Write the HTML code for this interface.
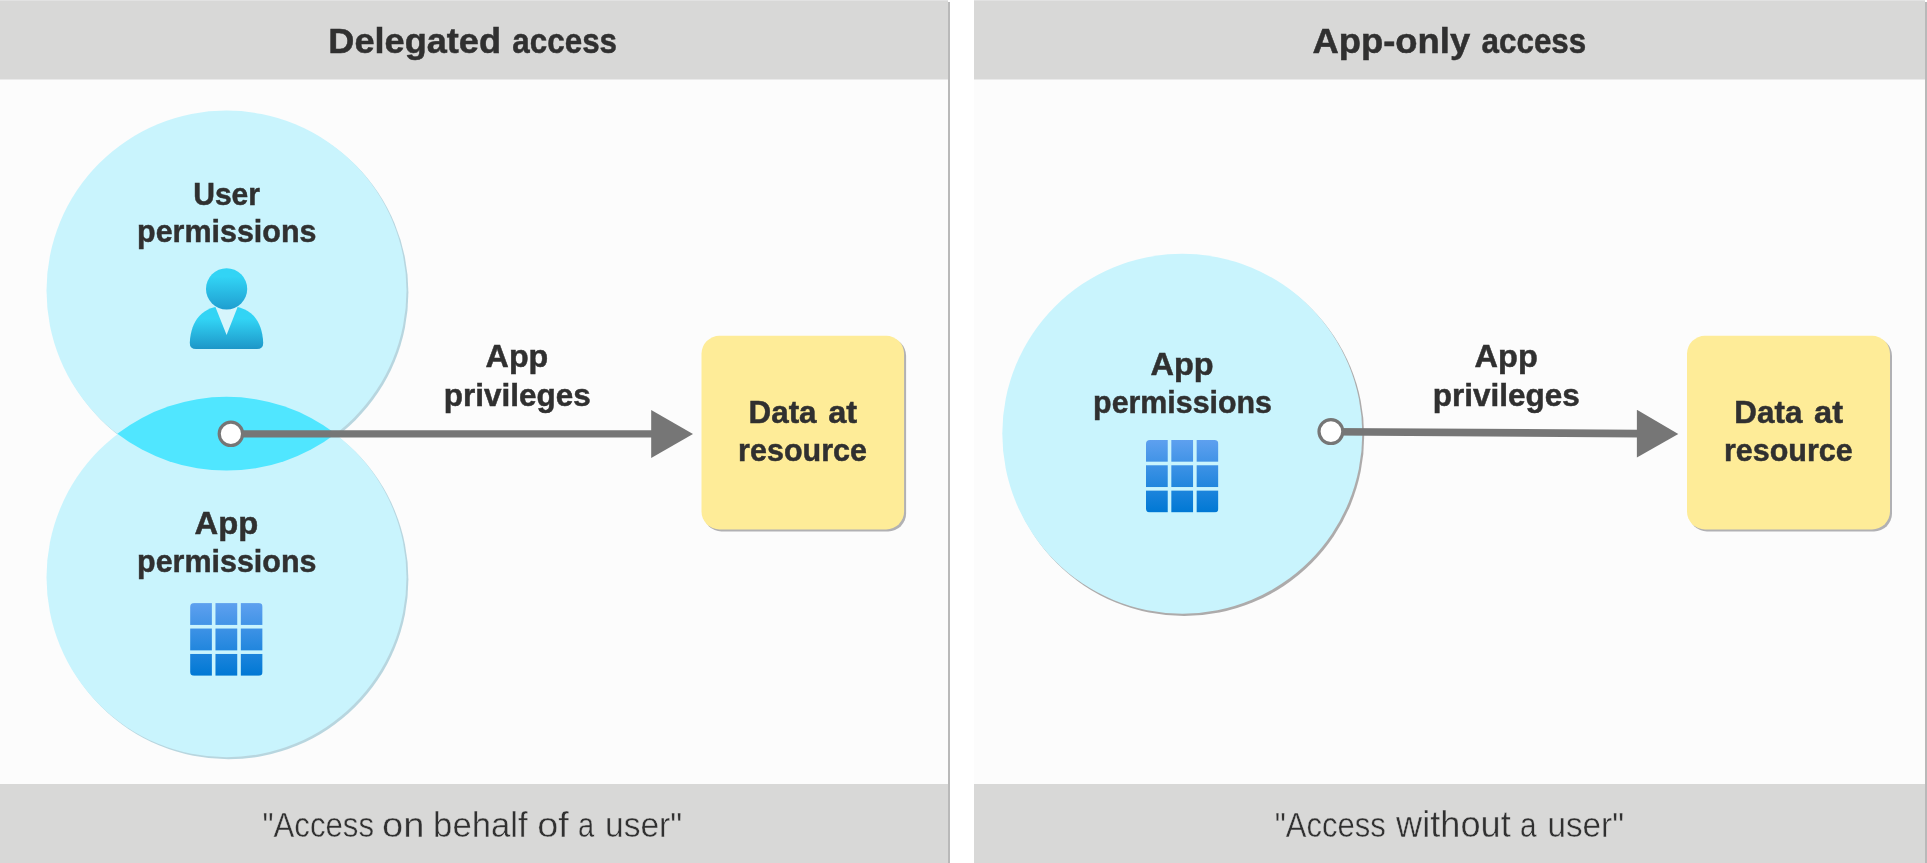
<!DOCTYPE html>
<html><head><meta charset="utf-8">
<style>
html,body{margin:0;padding:0;background:#ffffff;width:1927px;height:863px;overflow:hidden}
svg{display:block;will-change:transform}
text{font-family:"Liberation Sans",sans-serif;fill:#303030}
.b{font-weight:bold;stroke:#303030;stroke-width:0.5px}
</style></head><body>
<svg width="1927" height="863" viewBox="0 0 1927 863">
<defs>
 <linearGradient id="gUser" x1="0" y1="0" x2="0" y2="1">
  <stop offset="0.3" stop-color="#32d4f5"/><stop offset="1" stop-color="#1d96c8"/>
 </linearGradient>
 <linearGradient id="gHead" x1="0" y1="0" x2="0" y2="1">
  <stop offset="0.2" stop-color="#32d4f5"/><stop offset="1" stop-color="#1f9ed0"/>
 </linearGradient>
 <linearGradient id="gApp" gradientUnits="userSpaceOnUse" x1="0" y1="603.1" x2="0" y2="675.8">
  <stop offset="0" stop-color="#5ea0ef"/><stop offset="1" stop-color="#0078d4"/>
 </linearGradient>
 <linearGradient id="gApp2" gradientUnits="userSpaceOnUse" x1="0" y1="439.9" x2="0" y2="512.4">
  <stop offset="0" stop-color="#5ea0ef"/><stop offset="1" stop-color="#0078d4"/>
 </linearGradient>
 <clipPath id="cg1"><rect x="190.1" y="603.1" width="72.5" height="72.7" rx="4"/></clipPath>
 <clipPath id="cg2"><rect x="1146" y="439.9" width="72.4" height="72.5" rx="4"/></clipPath>
</defs>
<rect x="0" y="0" width="948" height="863" fill="#fcfcfc"/>
<rect x="974" y="0" width="951" height="863" fill="#fcfcfc"/>
<rect x="0" y="0" width="948" height="1" fill="#e2e2e2"/>
<rect x="974" y="0" width="951" height="1" fill="#e2e2e2"/>
<rect x="0" y="1" width="948" height="78.5" fill="#d8d8d7"/>
<rect x="974" y="1" width="951" height="78.5" fill="#d8d8d7"/>
<rect x="0" y="784" width="948" height="79" fill="#d8d8d7"/>
<rect x="974" y="784" width="951" height="79" fill="#d8d8d7"/>
<rect x="948" y="2" width="2" height="861" fill="#b9b9b9"/>
<rect x="1925" y="2" width="2" height="861" fill="#b9b9b9"/>
<circle cx="228.4" cy="292.6" r="180" fill="#b8d6df"/>
<circle cx="228.4" cy="579.3" r="180" fill="#b8d6df"/>
<circle cx="226.5" cy="290.6" r="180" fill="#c9f4fd"/>
<circle cx="226.5" cy="577.3" r="180" fill="#c9f4fd"/>
<path d="M117.3 433.7 A180 180 0 0 1 335.7 433.7 A180 180 0 0 1 117.3 433.7 Z" fill="#50e6ff"/>
<path d="M196 349 L257 349 Q263.4 349 263.2 342.5 C262 320 250.5 305.8 226.5 305.8 C202.5 305.8 191 320 189.8 342.5 Q189.6 349 196 349 Z" fill="url(#gUser)"/>
<path d="M214.6 305 L238.4 305 L226.6 335 Z" fill="#d6f5fc"/>
<circle cx="226.6" cy="288.9" r="20.6" fill="url(#gHead)"/>

<g clip-path="url(#cg1)" fill="url(#gApp)"><rect x="190.10" y="603.10" width="21.77" height="21.83"/><rect x="215.47" y="603.10" width="21.77" height="21.83"/><rect x="240.83" y="603.10" width="21.77" height="21.83"/><rect x="190.10" y="628.53" width="21.77" height="21.83"/><rect x="215.47" y="628.53" width="21.77" height="21.83"/><rect x="240.83" y="628.53" width="21.77" height="21.83"/><rect x="190.10" y="653.97" width="21.77" height="21.83"/><rect x="215.47" y="653.97" width="21.77" height="21.83"/><rect x="240.83" y="653.97" width="21.77" height="21.83"/></g>

<line x1="231" y1="433.9" x2="653" y2="433.9" stroke="#767676" stroke-width="7.4"/>
<path d="M651.2 410.1 L693 433.9 L651.2 458 Z" fill="#767676"/>
<circle cx="230.9" cy="433.8" r="11.7" fill="#ffffff" stroke="#767676" stroke-width="3.2"/>
<rect x="703.5" y="337.8" width="202.6" height="193.6" rx="18" fill="#b1b1b4"/>
<rect x="701.5" y="335.8" width="202.6" height="193.6" rx="18" fill="#feec98"/>
<circle cx="1184.2" cy="436" r="180" fill="#adabab"/>
<circle cx="1182.3" cy="433.7" r="180" fill="#c9f4fd"/>

<g clip-path="url(#cg2)" fill="url(#gApp2)"><rect x="1146.00" y="439.90" width="21.73" height="21.77"/><rect x="1171.33" y="439.90" width="21.73" height="21.77"/><rect x="1196.67" y="439.90" width="21.73" height="21.77"/><rect x="1146.00" y="465.27" width="21.73" height="21.77"/><rect x="1171.33" y="465.27" width="21.73" height="21.77"/><rect x="1196.67" y="465.27" width="21.73" height="21.77"/><rect x="1146.00" y="490.63" width="21.73" height="21.77"/><rect x="1171.33" y="490.63" width="21.73" height="21.77"/><rect x="1196.67" y="490.63" width="21.73" height="21.77"/></g>

<line x1="1331" y1="431.7" x2="1640" y2="433.6" stroke="#767676" stroke-width="7.6"/>
<path d="M1636.9 409.7 L1678.3 433.9 L1636.9 457.6 Z" fill="#767676"/>
<circle cx="1330.9" cy="431.6" r="11.9" fill="#ffffff" stroke="#767676" stroke-width="3.2"/>
<rect x="1689" y="337.8" width="203" height="193.6" rx="18" fill="#b1b1b4"/>
<rect x="1687" y="335.8" width="203" height="193.6" rx="18" fill="#feec98"/>

<text class="b" transform="translate(330.50 0) scale(1.0180 1) translate(-2.14 0)" x="0" y="53.0" font-size="35.5">Delegated</text>
<text class="b" transform="translate(513.10 0) scale(0.8843 1) translate(-0.85 0)" x="0" y="53.0" font-size="35.5">access</text>
<text class="b" transform="translate(1313.20 0) scale(1.0259 1) translate(-0.80 0)" x="0" y="52.8" font-size="35.5">App-only</text>
<text class="b" transform="translate(1482.30 0) scale(0.8843 1) translate(-0.85 0)" x="0" y="52.8" font-size="35.5">access</text>
<text class="b" transform="translate(194.70 0) scale(0.9395 1) translate(-1.61 0)" x="0" y="204.9" font-size="32">User</text>
<text class="b" transform="translate(138.90 0) scale(0.9519 1) translate(-1.89 0)" x="0" y="242.5" font-size="32">permissions</text>
<text class="b" transform="translate(195.20 0) scale(1.0242 1) translate(-0.67 0)" x="0" y="533.9" font-size="32">App</text>
<text class="b" transform="translate(138.90 0) scale(0.9519 1) translate(-1.89 0)" x="0" y="572.5" font-size="32">permissions</text>
<text class="b" transform="translate(486.30 0) scale(1.0077 1) translate(-0.67 0)" x="0" y="367.0" font-size="32">App</text>
<text class="b" transform="translate(445.60 0) scale(0.9844 1) translate(-1.89 0)" x="0" y="405.9" font-size="32">privileges</text>
<text class="b" transform="translate(750.40 0) scale(0.9809 1) translate(-1.88 0)" x="0" y="422.9" font-size="32">Data</text>
<text class="b" transform="translate(829.00 0) scale(1.0176 1) translate(-0.76 0)" x="0" y="422.9" font-size="32">at</text>
<text class="b" transform="translate(739.90 0) scale(0.9533 1) translate(-1.88 0)" x="0" y="460.9" font-size="32">resource</text>
<text class="b" transform="translate(1151.20 0) scale(1.0159 1) translate(-0.67 0)" x="0" y="375.1" font-size="32">App</text>
<text class="b" transform="translate(1094.90 0) scale(0.9492 1) translate(-1.89 0)" x="0" y="412.7" font-size="32">permissions</text>
<text class="b" transform="translate(1475.30 0) scale(1.0159 1) translate(-0.67 0)" x="0" y="367.0" font-size="32">App</text>
<text class="b" transform="translate(1434.60 0) scale(0.9837 1) translate(-1.89 0)" x="0" y="405.9" font-size="32">privileges</text>
<text class="b" transform="translate(1736.20 0) scale(0.9809 1) translate(-1.88 0)" x="0" y="422.9" font-size="32">Data</text>
<text class="b" transform="translate(1814.80 0) scale(1.0176 1) translate(-0.76 0)" x="0" y="422.9" font-size="32">at</text>
<text class="b" transform="translate(1725.70 0) scale(0.9533 1) translate(-1.88 0)" x="0" y="460.9" font-size="32">resource</text>
<text transform="translate(264.10 0) scale(0.8653 1) translate(-1.80 0)" x="0" y="836.8" font-size="36" stroke="#d8d8d7" stroke-width="0.45">&quot;Access</text>
<text transform="translate(384.00 0) scale(1.0596 1) translate(-1.77 0)" x="0" y="836.8" font-size="36" stroke="#d8d8d7" stroke-width="0.45">on</text>
<text transform="translate(435.70 0) scale(0.9648 1) translate(-2.70 0)" x="0" y="836.8" font-size="36" stroke="#d8d8d7" stroke-width="0.45">behalf</text>
<text transform="translate(539.00 0) scale(1.0537 1) translate(-1.77 0)" x="0" y="836.8" font-size="36" stroke="#d8d8d7" stroke-width="0.45">of</text>
<text transform="translate(579.40 0) scale(0.8084 1) translate(-1.80 0)" x="0" y="836.8" font-size="36" stroke="#d8d8d7" stroke-width="0.45">a</text>
<text transform="translate(607.60 0) scale(0.9307 1) translate(-2.67 0)" x="0" y="836.8" font-size="36" stroke="#d8d8d7" stroke-width="0.45">user&quot;</text>
<text transform="translate(1276.30 0) scale(0.8613 1) translate(-1.80 0)" x="0" y="836.8" font-size="36" stroke="#d8d8d7" stroke-width="0.45">&quot;Access</text>
<text transform="translate(1396.70 0) scale(1.0046 1) translate(-0.59 0)" x="0" y="836.8" font-size="36" stroke="#d8d8d7" stroke-width="0.45">without</text>
<text transform="translate(1521.40 0) scale(0.8251 1) translate(-1.80 0)" x="0" y="836.8" font-size="36" stroke="#d8d8d7" stroke-width="0.45">a</text>
<text transform="translate(1550.00 0) scale(0.9230 1) translate(-2.67 0)" x="0" y="836.8" font-size="36" stroke="#d8d8d7" stroke-width="0.45">user&quot;</text>
</svg>
</body></html>
